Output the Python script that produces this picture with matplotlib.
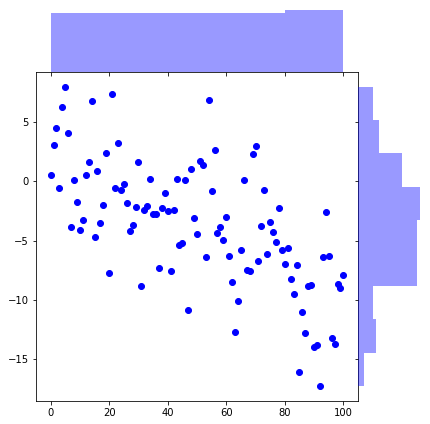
import numpy as np
import matplotlib
matplotlib.use("Agg")
import matplotlib.pyplot as plt

x_vals = list(range(0, 101))
y_vals = [0.52, 3.06, 4.5, -0.58, 6.28, 7.98, 4.08, -3.88, 0.1, -1.77,
          -4.08, -3.29, 0.58, 1.62, 6.79, -4.73, 0.86, -3.55, -2.02, 2.39,
          -7.7, 7.39, -0.58, 3.23, -0.75, -0.24, -1.85, -4.22, -3.7, -2.19,
          1.62, -8.8, -2.44, -2.08, 0.18, -2.75, -2.75, -7.28, -2.25, -1.0,
          -2.53, -7.61, -2.44, 0.18, -5.41, -5.22, 0.1, -10.84, 1.03, -3.12,
          -4.48, 1.74, 1.37, -6.43, 6.88, -0.83, 2.64, -4.39, -3.88, -4.93,
          -3.04, -6.31, -8.54, -12.7, -10.07, -5.83, 0.1, -7.53, -7.61, 2.35,
          2.98, -6.74, -3.8, -0.75, -6.14, -3.46, -4.31, -5.16, -2.27, -5.83,
          -7.0, -5.66, -8.29, -9.48, -7.1, -16.09, -11.0, -12.78, -8.8, -8.72,
          -13.97, -13.83, -17.27, -6.43, -2.61, -6.34, -13.2, -13.71, -8.63, -9.05,
          -7.95]
x_ticks = [0, 20, 40, 60, 80, 100]
y_ticks = [-15, -10, -5, 0, 5]
x_bins = 5
y_bins = 9

W, H = 430, 424
fig = plt.figure(figsize=(W / 72, H / 72), dpi=72)
fig.patch.set_facecolor("white")

ax = fig.add_axes([36 / W, (H - 400.7) / H, 322 / W, 328.7 / H])
ax_top = fig.add_axes([36 / W, (H - 72) / H, 322 / W, 65 / H], sharex=ax)
ax_right = fig.add_axes([358 / W, (H - 400.7) / H, 65 / W, 328.7 / H], sharey=ax)

ax.scatter(x_vals, y_vals, s=36, color="b")
ax.set_xticks(x_ticks)
ax.set_yticks(y_ticks)
ax.tick_params(labelsize=10)

ax_top.hist(x_vals, bins=x_bins, color="b", alpha=0.4)
ax_right.hist(y_vals, bins=y_bins, color="b", alpha=0.4, orientation="horizontal")

for a in (ax_top, ax_right):
    for s in a.spines.values():
        s.set_visible(False)
    a.set_facecolor("none")

ax_top.tick_params(axis="x", labelbottom=False)
ax_top.tick_params(axis="y", left=False, labelleft=False)
ax_right.tick_params(axis="y", labelleft=False)
ax_right.tick_params(axis="x", bottom=False, labelbottom=False)

fig.savefig("out.png", dpi=72, facecolor="white")
